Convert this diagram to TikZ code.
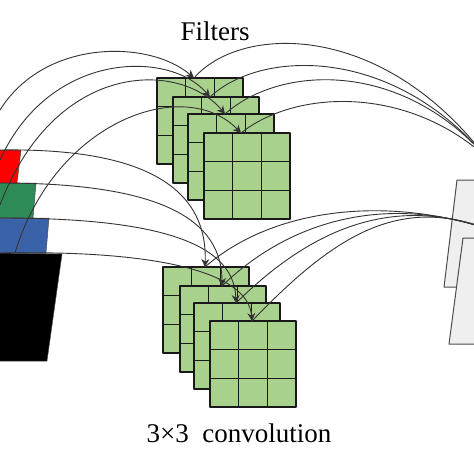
\documentclass[tikz,border=0pt]{standalone}
\usepackage{fontspec}
\setmainfont{Liberation Serif}
\usetikzlibrary{arrows.meta}

\definecolor{cellgreen}{RGB}{169,209,142}
\definecolor{layerred}{RGB}{255,0,0}
\definecolor{layergreen}{RGB}{46,139,87}
\definecolor{layerblue}{RGB}{58,98,168}
\definecolor{mapgray}{RGB}{239,239,239}

\begin{document}
\begin{tikzpicture}[line cap=round,line join=round,>={Stealth[length=8pt,width=8pt]},x=1pt,y=-1pt,
  cell/.style={draw=black!90,fill=cellgreen,line width=1.3pt},
  wire/.style={draw=black!80,line width=0.9pt},
  layer/.style={draw=black!70,line width=0.5pt},
  fmap/.style={fill=mapgray,draw=black!70,line width=1pt}]
\useasboundingbox (0,0) rectangle (474,474);
\clip (0,0) rectangle (474,474);
% input image layers
\filldraw[layer,fill=layerred] (-5,150)--(21,150)--(17,183)--(-5,183)--cycle;
\filldraw[layer,fill=layergreen] (-5,183)--(36,183)--(33,218)--(-5,218)--cycle;
\filldraw[layer,fill=layerblue] (-5,218)--(49,218)--(46,253)--(-5,253)--cycle;
\filldraw[layer,fill=black] (-5,253)--(62,254)--(47,361)--(-5,361)--cycle;
% output feature maps
\filldraw[fmap] (457,180)--(480,180)--(480,287)--(444,287)--cycle;
\filldraw[fmap] (463,238)--(480,238)--(480,344)--(449,344)--cycle;
\coordinate (m1) at (485,156);
\coordinate (m2) at (485,228);
% filters
\foreach \i/\gx/\gy in {1/157/78, 2/173/97, 3/188/114, 4/204/133}
{
\draw[cell] (\gx,\gy) rectangle ++(86,86);
\foreach \k in {1,2}
{
\draw[cell,fill=none] (\gx+28.67*\k,\gy)--++(0,86);
\draw[cell,fill=none] (\gx,\gy+28.67*\k)--++(86,0);
}
\coordinate (f\i) at (\gx+37,\gy);
}
% 3x3 convolution
\foreach \i/\gx/\gy in {1/163/267, 2/180/286, 3/194/303, 4/210/321}
{
\draw[cell] (\gx,\gy) rectangle ++(86,86);
\foreach \k in {1,2}
{
\draw[cell,fill=none] (\gx+28.67*\k,\gy)--++(0,86);
\draw[cell,fill=none] (\gx,\gy+28.67*\k)--++(86,0);
}
\coordinate (c\i) at (\gx+42,\gy);
}
% start points on the layers
\coordinate (s1) at (0,110);
\coordinate (s2) at (0,160);
\coordinate (s3) at (0,205);
\coordinate (s4) at (15,253);
\coordinate (l1) at (0,150);
\coordinate (l2) at (0,183);
\coordinate (l3) at (0,218);
\coordinate (l4) at (0,253);
% wires to the filters
\foreach \i/\ax/\ay/\bx/\by in {1/45/38/150/40, 2/50/50/170/50, 3/55/60/180/60, 4/55/120/185/75}
{
\draw[wire,->] (s\i) .. controls (\ax,\ay) and (\bx,\by) .. (f\i);
}
\foreach \i/\ax/\ay/\bx/\by in {1/240/25/380/20, 2/260/50/390/45, 3/280/65/400/60, 4/295/90/405/85}
{
\draw[wire] (f\i) .. controls (\ax,\ay) and (\bx,\by) .. (m1);
}
% wires to the convolution
\foreach \i/\ax/\ay/\bx/\by in {1/130/148/208/180, 2/140/183/222/210, 3/150/218/234/240, 4/150/250/248/270}
{
\draw[wire,->] (l\i) .. controls (\ax,\ay) and (\bx,\by) .. (c\i);
}
\foreach \i/\ax/\ay/\bx/\by in {1/270/210/380/195, 2/290/220/385/195, 3/310/230/390/195, 4/330/240/395/195}
{
\draw[wire] (c\i) .. controls (\ax,\ay) and (\bx,\by) .. (m2);
}
\node[anchor=base,font=\fontsize{27}{31}\selectfont] (filters) at (215,40) {Filters};
\node[anchor=base,font=\fontsize{27}{31}\selectfont] (conv) at (239,442) {3×3\ \ convolution};
\end{tikzpicture}
\end{document}
